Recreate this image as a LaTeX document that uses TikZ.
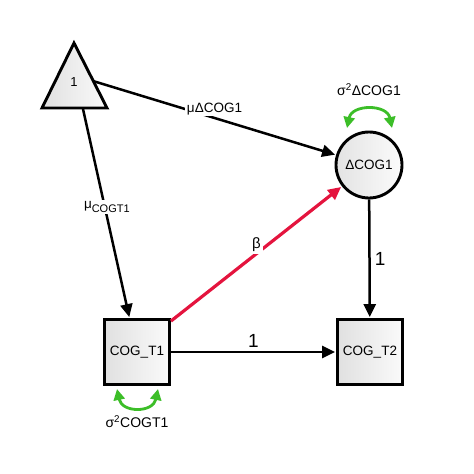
\documentclass[tikz,border=0pt]{standalone}
\usepackage{fontspec}
\setmainfont{Liberation Sans}
\usetikzlibrary{arrows.meta,calc}
\definecolor{redarr}{RGB}{228,20,62}
\definecolor{greenarr}{RGB}{60,190,40}
\begin{document}
\begin{tikzpicture}[x=1pt,y=-1pt,
  box/.style={draw, line width=2.9pt, minimum size=65pt, inner sep=0pt,
    left color=gray!24, right color=gray!4, font=\fontsize{13.5}{15}\selectfont},
  latent/.style={draw, circle, line width=2.9pt, minimum size=66pt, inner sep=0pt,
    left color=gray!22, right color=gray!3, font=\fontsize{13.5}{15}\selectfont},
  conn/.style={-{Triangle[length=13pt,width=12pt]}, line width=2.5pt, shorten >=1pt},
  redconn/.style={conn, draw=redarr, line width=3.2pt, -{Triangle[length=13pt,width=12pt,fill=redarr]}},
  varconn/.style={{Triangle[length=11pt,width=11pt]}-{Triangle[length=11pt,width=11pt]}, line width=2.8pt, draw=greenarr, fill=none},
  lab/.style={fill=white, inner sep=1.5pt, font=\fontsize{13.5}{15}\selectfont},
  biglab/.style={inner sep=1pt, font=\fontsize{19}{21}\selectfont}
]
\useasboundingbox (0,0) rectangle (474,474);

% triangle (constant)
\coordinate (tA) at (74,43);
\coordinate (tB) at (42,108);
\coordinate (tC) at (107,108);
\path[draw, line width=2.9pt, line join=miter, left color=gray!24, right color=gray!4] (tA) -- (tB) -- (tC) -- cycle;
\node[font=\fontsize{13}{15}\selectfont] (one) at (74,82) {1};
\coordinate (triR) at (93,81);
\coordinate (triB) at (83,109);

% nodes
\node[latent] (circ) at (369,165) {ΔCOG1};
\node[box] (t1) at (137,352) {COG\_T1};
\node[box] (t2) at (370,352) {COG\_T2};

% connectors
\draw[conn] (triR) -- node[lab, pos=0.5, yshift=9pt] {μΔCOG1} (circ);
\draw[conn] (triB) -- node[lab, pos=0.47, xshift=2pt] {μ\raisebox{-0.55ex}{\fontsize{11}{12}\selectfont COGT1}} (t1);
\draw[redconn] ([yshift=-3pt]t1.north east) -- node[lab, pos=0.5, yshift=9pt, inner sep=2pt, font=\fontsize{15}{17}\selectfont] {β} (circ);
\draw[conn] (circ) -- node[biglab, right=3pt] {1} (t2);
\draw[conn] (t1) -- node[biglab, above=2pt] {1} (t2);

% variances
\coordinate (vA) at (347,128);
\coordinate (vB) at (392,128);
\draw[varconn] (vA) .. controls (352,104) and (387,104) .. (vB);
\node[font=\fontsize{14}{16}\selectfont] (varc) at (369,90) {σ\textsuperscript{2}ΔCOG1};

\coordinate (wA) at (117,389);
\coordinate (wB) at (158,389);
\draw[varconn] (wA) .. controls (122,413) and (153,413) .. (wB);
\node[font=\fontsize{14}{16}\selectfont] (vart) at (137,422) {σ\textsuperscript{2}COGT1};
\end{tikzpicture}
\end{document}
